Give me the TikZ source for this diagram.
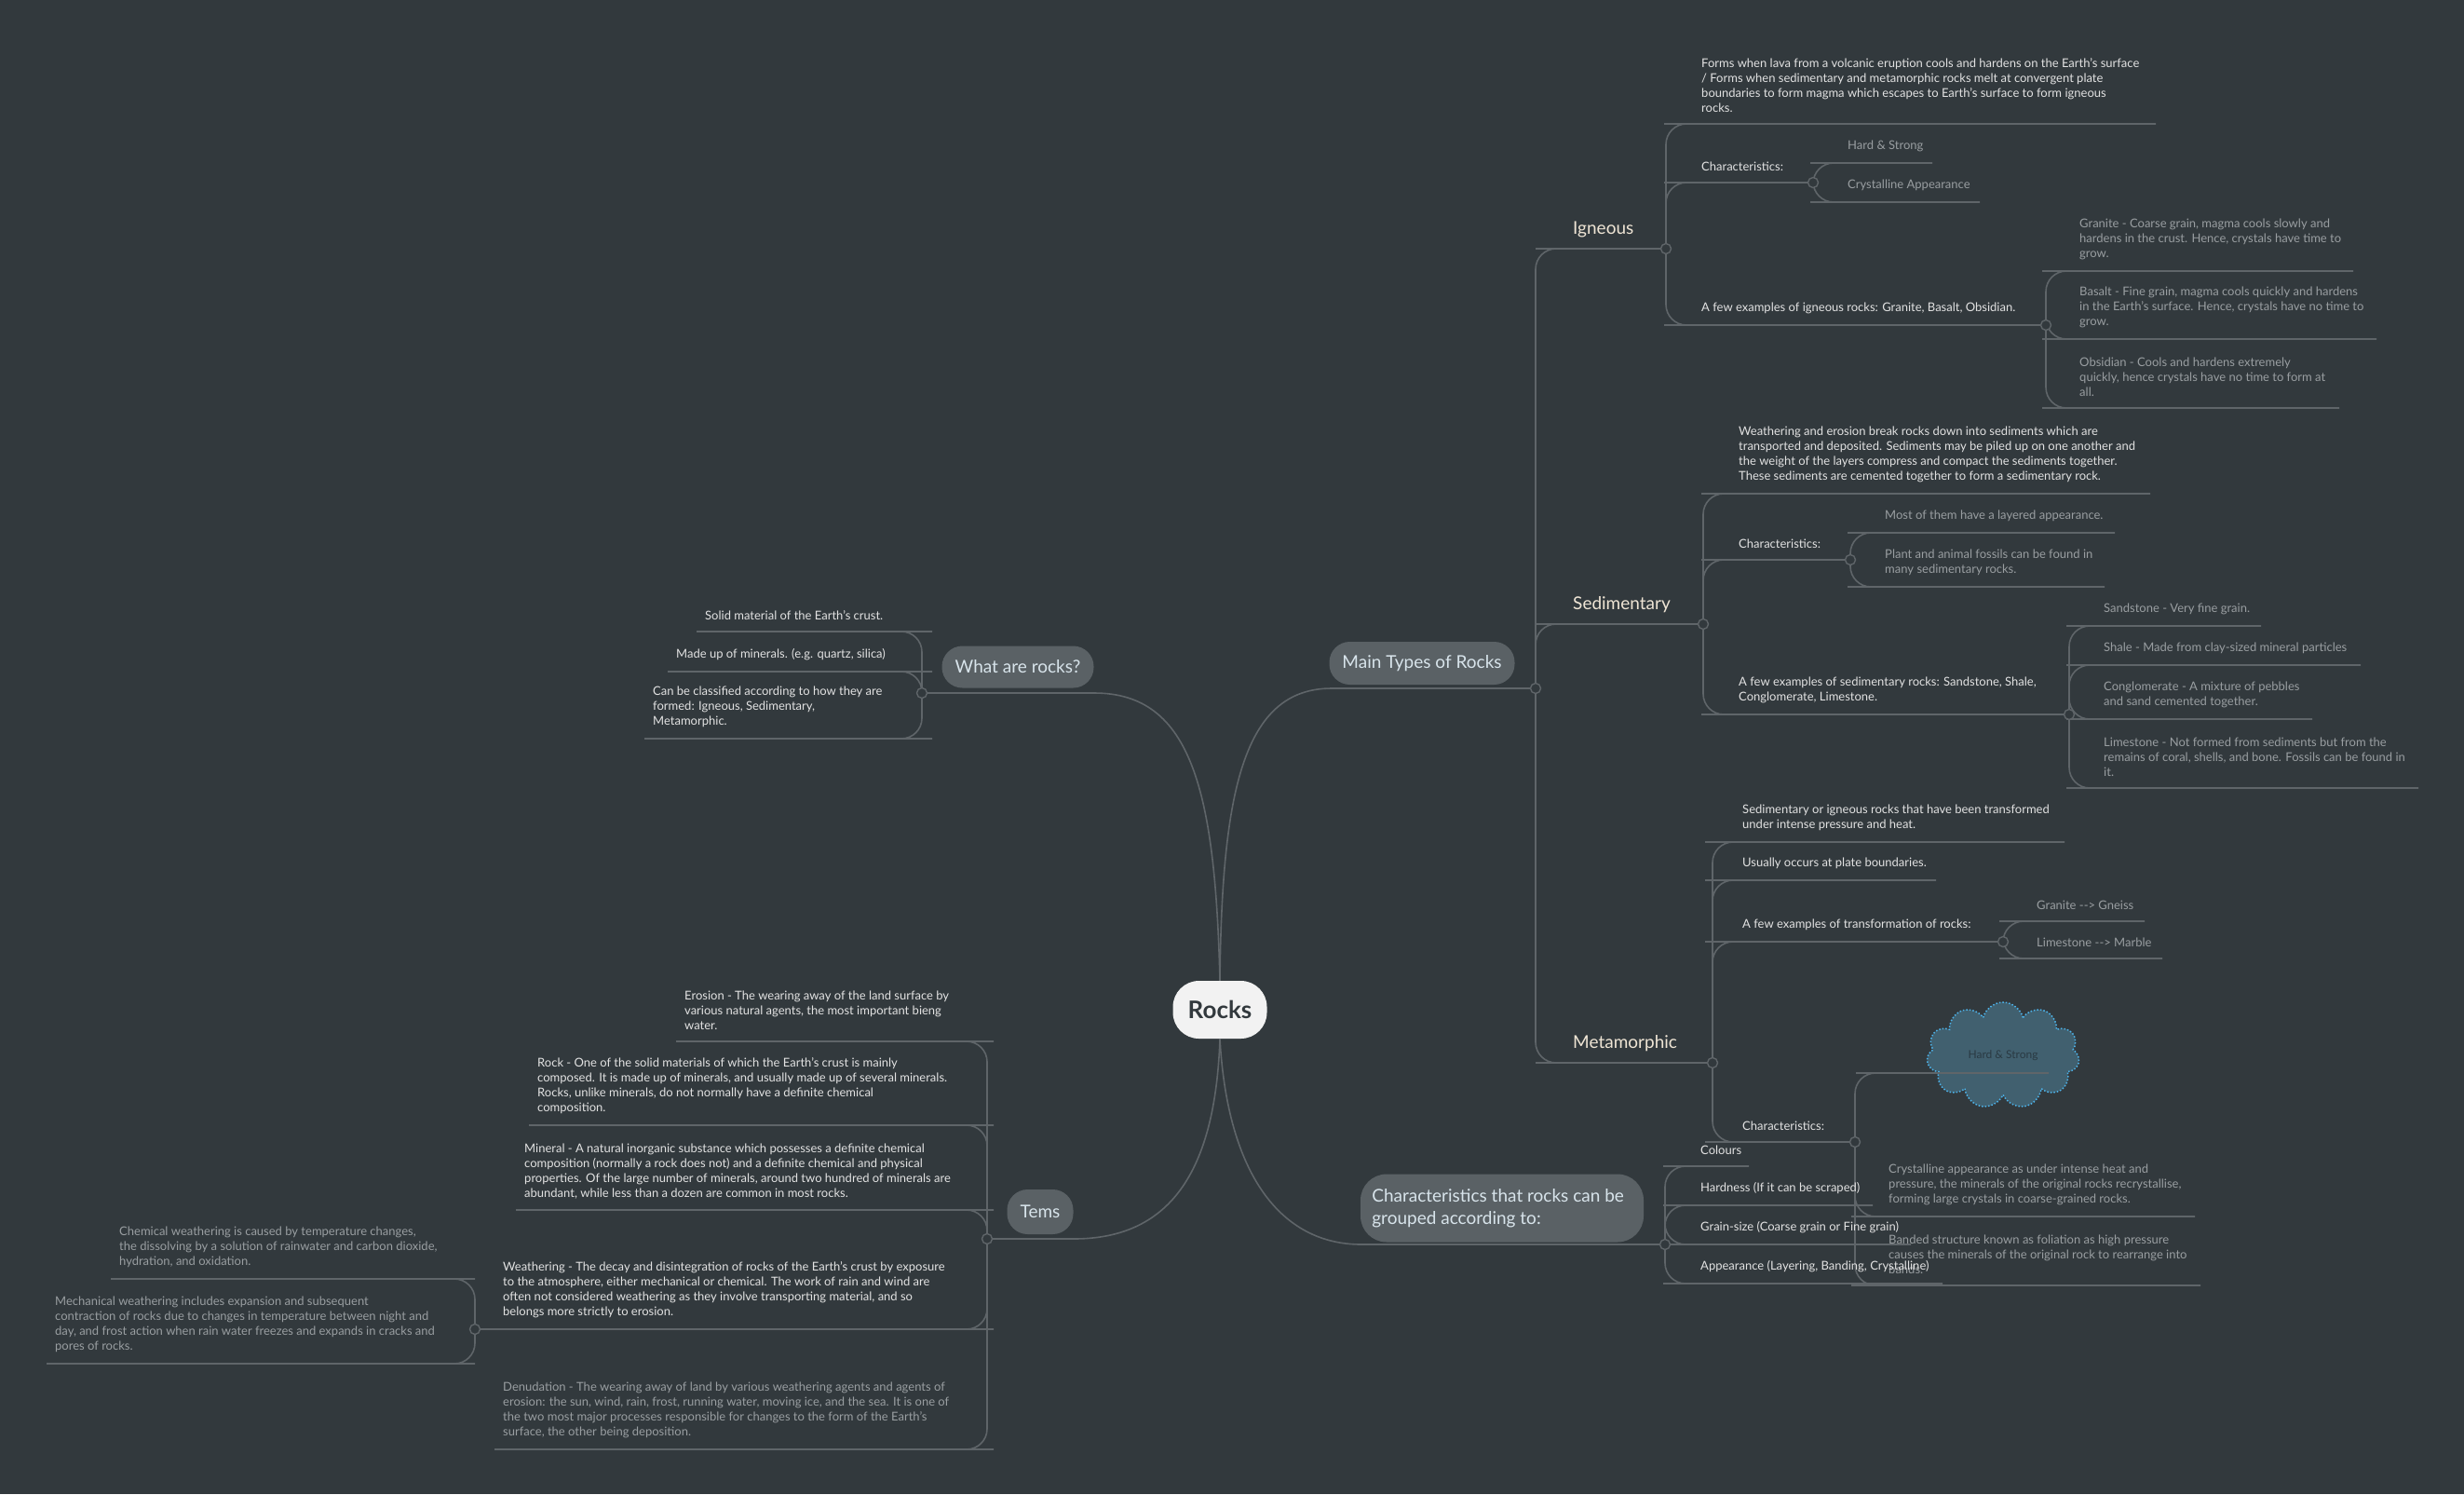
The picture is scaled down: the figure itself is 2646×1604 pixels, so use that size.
\documentclass[tikz,border=0pt]{standalone}
\usepackage{fontspec}
\setmainfont{Lato}
\usetikzlibrary{shapes.symbols}
\definecolor{bg}{HTML}{32393D}
\definecolor{ln}{HTML}{5F6569}
\definecolor{tw}{HTML}{E2E2E2}
\definecolor{tg}{HTML}{999EA1}
\definecolor{tt}{HTML}{EFE5D5}
\definecolor{pf}{HTML}{5A6165}
\definecolor{pt}{HTML}{D8E4EB}
\definecolor{cf}{HTML}{41606F}
\definecolor{cd}{HTML}{4DB3EA}
\definecolor{ct}{HTML}{2A3A43}
\definecolor{rw}{HTML}{F2F2F2}
\tikzset{
 conn/.style={draw=ln,line width=1.6pt,rounded corners=22pt},
 jn/.style={circle,draw=ln,fill=bg,line width=1.4pt,minimum size=11pt,inner sep=0pt},
 lw/.style={text=tw,font=\fontsize{13}{16}\selectfont,align=left,inner sep=0pt},
 lg/.style={text=tg,font=\fontsize{13}{16}\selectfont,align=left,inner sep=0pt},
 ttl/.style={text=tt,font=\fontsize{19}{22}\selectfont,inner sep=0pt},
 pill/.style={rounded corners=22pt,fill=pf,text=pt,font=\fontsize{19}{24}\selectfont,align=left,inner sep=0pt}
}
\newcommand\RL[7]{%
 \coordinate (#1s) at (#3,#5); \coordinate (#1e) at (#4,#5);
 \draw[conn] (#2) |- (#1s) -- (#1e);
 \node[#6,anchor=south west] (#1) at (#3+18,#5-12) {#7};}
\newcommand\LL[7]{%
 \coordinate (#1s) at (#3,#5); \coordinate (#1e) at (#4,#5);
 \draw[conn] (#2) |- (#1e) -- (#1s);
 \node[#6,anchor=south west] (#1) at (#3+9,#5-12) {#7};}
\begin{document}
\begin{tikzpicture}[x=1pt,y=-1pt]
\fill[bg] (0,0) rectangle (2646,1604);
\useasboundingbox (0,0) rectangle (2646,1604);
\coordinate (mtj) at (1649,739);
\coordinate (wj) at (990,744);
\coordinate (tj) at (1060,1330);
\coordinate (cj) at (1788,1336);
\coordinate (igj) at (1789,267);
\coordinate (sdj) at (1829,670);
\coordinate (mmj) at (1839,1141);
\coordinate (igcj) at (1947,196);
\coordinate (igej) at (2197,349);
\coordinate (sdcj) at (1987,601);
\coordinate (sdej) at (2222,767);
\coordinate (mmtj) at (2151,1011);
\coordinate (mmcj) at (1992,1226);
\coordinate (wtj) at (510,1427);
\node[rounded corners=28pt,fill=rw,text=bg,font=\fontsize{26}{30}\selectfont\bfseries,minimum width=101pt,minimum height=62pt,inner sep=0pt] (rocks) at (1310,1084) {Rocks};
\draw[conn,rounded corners=0pt] (rocks.north) .. controls (1312,850) and (1335,739) .. (1430,739) -- (mtj);
\draw[conn,rounded corners=0pt] (rocks.north) .. controls (1305,850) and (1280,744) .. (1175,744) -- (wj);
\draw[conn,rounded corners=0pt] (rocks.south) .. controls (1305,1260) and (1255,1330) .. (1153,1330) -- (tj);
\draw[conn,rounded corners=0pt] (rocks.south) .. controls (1318,1260) and (1375,1336) .. (1462,1336) -- (cj);
\node[pill,minimum width=199pt,minimum height=46pt,align=center] (mt) at (1527,712) {Main Types of Rocks};
\node[pill,minimum width=163pt,minimum height=45pt,align=center] (wr) at (1093,716) {What are rocks?};
\node[pill,minimum width=71pt,minimum height=48pt,align=center] (tems) at (1117,1301) {Tems};
\node[pill,minimum width=304pt,minimum height=73pt,rounded corners=28pt] (cg) at (1613,1297) {\hspace*{12pt}Characteristics that rocks can be\\\hspace*{12pt}grouped according to:\hspace*{110pt}};
\RL{ig}{mtj}{1671}{1789}{267}{ttl}{Igneous}
\RL{sd}{mtj}{1671}{1829}{670}{ttl}{Sedimentary}
\RL{mm}{mtj}{1671}{1839}{1141}{ttl}{Metamorphic}
\RL{ig1}{igj}{1809}{2315}{133}{lw}{Forms when lava from a volcanic eruption cools and hardens on the Earth's surface\\/ Forms when sedimentary and metamorphic rocks melt at convergent plate\\boundaries to form magma which escapes to Earth's surface to form igneous\\rocks.}
\RL{ig2}{igj}{1809}{1947}{196}{lw}{Characteristics:}
\RL{ig3}{igj}{1809}{2197}{349}{lw}{A few examples of igneous rocks: Granite, Basalt, Obsidian.}
\RL{ig21}{igcj}{1966}{2075}{175}{lg}{Hard \& Strong}
\RL{ig22}{igcj}{1966}{2126}{217}{lg}{Crystalline Appearance}
\RL{ig31}{igej}{2215}{2527}{291}{lg}{Granite - Coarse grain, magma cools slowly and\\hardens in the crust. Hence, crystals have time to\\grow.}
\RL{ig32}{igej}{2215}{2552}{364}{lg}{Basalt - Fine grain, magma cools quickly and hardens\\in the Earth's surface. Hence, crystals have no time to\\grow.}
\RL{ig33}{igej}{2215}{2512}{438}{lg}{Obsidian - Cools and hardens extremely\\quickly, hence crystals have no time to form at\\all.}
\RL{sd1}{sdj}{1849}{2309}{530}{lw}{Weathering and erosion break rocks down into sediments which are\\transported and deposited. Sediments may be piled up on one another and\\the weight of the layers compress and compact the sediments together.\\These sediments are cemented together to form a sedimentary rock.}
\RL{sd2}{sdj}{1849}{1987}{601}{lw}{Characteristics:}
\RL{sd3}{sdj}{1849}{2222}{767}{lw}{A few examples of sedimentary rocks: Sandstone, Shale,\\Conglomerate, Limestone.}
\RL{sd21}{sdcj}{2006}{2271}{572}{lg}{Most of them have a layered appearance.}
\RL{sd22}{sdcj}{2006}{2260}{630}{lg}{Plant and animal fossils can be found in\\many sedimentary rocks.}
\RL{sd31}{sdej}{2241}{2428}{672}{lg}{Sandstone - Very fine grain.}
\RL{sd32}{sdej}{2241}{2535}{714}{lg}{Shale - Made from clay-sized mineral particles}
\RL{sd33}{sdej}{2241}{2483}{772}{lg}{Conglomerate - A mixture of pebbles\\and sand cemented together.}
\RL{sd34}{sdej}{2241}{2597}{846}{lg}{Limestone - Not formed from sediments but from the\\remains of coral, shells, and bone. Fossils can be found in\\it.}
\RL{mm1}{mmj}{1853}{2217}{904}{lw}{Sedimentary or igneous rocks that have been transformed\\under intense pressure and heat.}
\RL{mm2}{mmj}{1853}{2079}{945}{lw}{Usually occurs at plate boundaries.}
\RL{mm3}{mmj}{1853}{2151}{1011}{lw}{A few examples of transformation of rocks:}
\RL{mm4}{mmj}{1853}{1992}{1226}{lw}{Characteristics:}
\RL{mm31}{mmtj}{2169}{2303}{989}{lg}{Granite {-}{-}> Gneiss}
\RL{mm32}{mmtj}{2169}{2322}{1029}{lg}{Limestone {-}{-}> Marble}
\node[cloud,cloud puffs=11,aspect=1.45,draw=cd,dotted,line width=1.5pt,fill=cf,minimum width=164pt,minimum height=114pt,inner sep=0pt,font=\fontsize{12}{14}\selectfont,text=ct] (cloud) at (2151,1133) {Hard \& Strong};
\coordinate (mm41s) at (2015,1152); \coordinate (mm41e) at (2200,1152);
\draw[conn] (mmcj) |- (mm41s) -- (mm41e);
\RL{mm42}{mmcj}{2010}{2357}{1306}{lg}{Crystalline appearance as under intense heat and\\pressure, the minerals of the original rocks recrystallise,\\forming large crystals in coarse-grained rocks.}
\RL{mm43}{mmcj}{2010}{2363}{1380}{lg}{Banded structure known as foliation as high pressure\\causes the minerals of the original rock to rearrange into\\bands.}
\RL{cg1}{cj}{1808}{1878}{1252}{lw}{Colours}
\RL{cg2}{cj}{1808}{2011}{1294}{lw}{Hardness (If it can be scraped)}
\RL{cg3}{cj}{1808}{2052}{1336}{lw}{Grain-size (Coarse grain or Fine grain)}
\RL{cg4}{cj}{1808}{2086}{1378}{lw}{Appearance (Layering, Banding, Crystalline)}
\LL{w1}{wj}{748}{979}{678}{lw}{Solid material of the Earth's crust.}
\LL{w2}{wj}{717}{979}{721}{lw}{Made up of minerals. (e.g. quartz, silica)}
\LL{w3}{wj}{692}{979}{793}{lw}{Can be classified according to how they are\\formed: Igneous, Sedimentary,\\Metamorphic.}
\LL{t1}{tj}{726}{1045}{1118}{lw}{Erosion - The wearing away of the land surface by\\various natural agents, the most important bieng\\water.}
\LL{t2}{tj}{568}{1045}{1208}{lw}{Rock - One of the solid materials of which the Earth's crust is mainly\\composed. It is made up of minerals, and usually made up of several minerals.\\Rocks, unlike minerals, do not normally have a definite chemical\\composition.}
\LL{t3}{tj}{554}{1045}{1299}{lw}{Mineral - A natural inorganic substance which possesses a definite chemical\\composition (normally a rock does not) and a definite chemical and physical\\properties. Of the large number of minerals, around two hundred of minerals are\\abundant, while less than a dozen are common in most rocks.}
\LL{t4}{tj}{531}{1045}{1427}{lw}{Weathering - The decay and disintegration of rocks of the Earth's crust by exposure\\to the atmosphere, either mechanical or chemical. The work of rain and wind are\\often not considered weathering as they involve transporting material, and so\\belongs more strictly to erosion.}
\draw[conn] (wtj) -- (t4s);
\LL{t5}{tj}{531}{1045}{1556}{lg}{Denudation - The wearing away of land by various weathering agents and agents of\\erosion: the sun, wind, rain, frost, running water, moving ice, and the sea. It is one of\\the two most major processes responsible for changes to the form of the Earth's\\surface, the other being deposition.}
\LL{t41}{wtj}{119}{488}{1373}{lg}{Chemical weathering is caused by temperature changes,\\the dissolving by a solution of rainwater and carbon dioxide,\\hydration, and oxidation.}
\LL{t42}{wtj}{50}{488}{1464}{lg}{Mechanical weathering includes expansion and subsequent\\contraction of rocks due to changes in temperature between night and\\day, and frost action when rain water freezes and expands in cracks and\\pores of rocks.}
\foreach \j in {mtj,wj,tj,cj,igj,sdj,mmj,igcj,igej,sdcj,sdej,mmtj,mmcj,wtj} \node[jn] at (\j) {};
\end{tikzpicture}
\end{document}
